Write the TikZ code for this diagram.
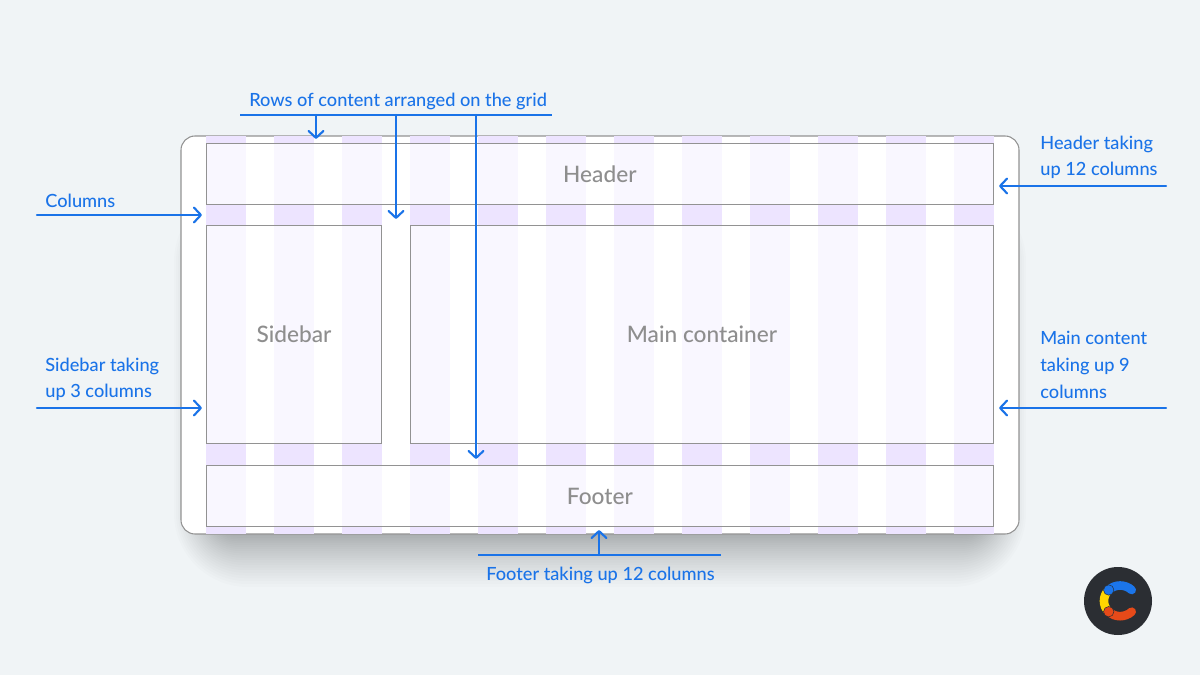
\documentclass[tikz,border=0pt]{standalone}
\usepackage{fontspec}
\setmainfont{Lato Medium}
\usetikzlibrary{arrows.meta}
\definecolor{pagebg}{HTML}{F0F4F6}
\definecolor{cardline}{HTML}{929292}
\definecolor{stripe}{HTML}{EDE4FF}
\definecolor{labelblue}{HTML}{1A73E8}
\definecolor{partgray}{HTML}{8E8E8E}
\definecolor{logodark}{HTML}{2B2E33}
\definecolor{logoblue}{HTML}{1B75EA}
\definecolor{logoyellow}{HTML}{FFD600}
\definecolor{logored}{HTML}{E64A19}
\begin{document}
\begin{tikzpicture}[x=0.02cm,y=-0.02cm,
  part/.style={draw=cardline,line width=0.55pt,fill=white,fill opacity=0.72,text opacity=1,text=partgray,font=\fontsize{12.9}{15}\selectfont,inner sep=0pt,anchor=north west},
  note/.style={text=labelblue,font=\fontsize{10.35}{15.3}\selectfont,align=left,inner sep=0pt,anchor=west},
  rule/.style={draw=labelblue,line width=1.2pt},
  pointer/.style={rule,line cap=round,-{Straight Barb[length=4pt,width=8.5pt,round]}},
  ring/.style={line width=4.9pt,line cap=round}]
\useasboundingbox (0,0) rectangle (1200,675);
\fill[pagebg] (0,0) rectangle (1200,675);
\foreach \k in {1,...,48}
  \fill[black,opacity=0.0115,rounded corners=6+\k*\k/64] (222-\k*\k/48,260-\k*\k/32) rectangle (978+\k*\k/48,515+\k*\k/32);
\draw[cardline,fill=white,line width=0.6pt,rounded corners=8] (181,136) rectangle (1019,534);
\foreach \i in {0,...,11}
  \fill[stripe] (206+68*\i,136.4) rectangle (246+68*\i,533.6);
\node[part,minimum width=786.8*0.02cm,minimum height=61*0.02cm] (header) at (206,143) {Header};
\node[part,minimum width=175*0.02cm,minimum height=218*0.02cm] (sidebar) at (206,225) {Sidebar};
\node[part,minimum width=583*0.02cm,minimum height=218*0.02cm] (main) at (410,225) {Main container};
\node[part,minimum width=786.8*0.02cm,minimum height=61*0.02cm] (footer) at (206,465) {Footer};
\node[note] (rowsnote) at (249,101.5) {Rows of content arranged on the grid};
\node[note] (colsnote) at (45,201) {Columns};
\node[note] (sidenote) at (45,379.3) {Sidebar taking\\up 3 columns};
\node[note] (headnote) at (1040,157.3) {Header taking\\up 12 columns};
\node[note] (mainnote) at (1040,365) {Main content\\taking up 9\\columns};
\node[note] (footnote) at (486,575) {Footer taking up 12 columns};
\coordinate (rowsa) at (240,115);
\coordinate (rowsb) at (552,115);
\coordinate (rows1) at (316,115);
\coordinate (rows2) at (396,115);
\coordinate (rows3) at (476,115);
\coordinate (rows1e) at (316,139);
\coordinate (rows2e) at (396,219);
\coordinate (rows3e) at (476,459);
\coordinate (colsa) at (37,215);
\coordinate (colse) at (202,215);
\coordinate (sidea) at (37,408);
\coordinate (sidee) at (202,408);
\coordinate (heada) at (1166,186);
\coordinate (heade) at (999,186);
\coordinate (maina) at (1166,408);
\coordinate (maine) at (999,408);
\coordinate (foota) at (478,555);
\coordinate (footb) at (721,555);
\coordinate (foot1) at (599,555);
\coordinate (foote) at (599,530);
\draw[rule] (rowsa)--(rowsb);
\draw[rule] (foota)--(footb);
\draw[pointer] (rows1)--(rows1e);
\draw[pointer] (rows2)--(rows2e);
\draw[pointer] (rows3)--(rows3e);
\draw[pointer] (colsa)--(colse);
\draw[pointer] (sidea)--(sidee);
\draw[pointer] (heada)--(heade);
\draw[pointer] (maina)--(maine);
\draw[pointer] (foot1)--(foote);
\fill[logodark] (1118,601) circle (34);
\draw[ring,logoyellow,line cap=butt] (1108.7,590) .. controls (1102.4,596) and (1102.4,606) .. (1108.7,611.7);
\draw[ring,logoblue] (1108.7,590) .. controls (1115,584) and (1125,584) .. (1131.7,590);
\draw[ring,logored] (1108.7,611.7) .. controls (1115,617.7) and (1125,617.7) .. (1131.7,611.7);
\fill[logoblue,draw=logodark,line width=0.3pt] (1108.7,590) circle (5.2);
\fill[logored,draw=logodark,line width=0.3pt] (1108.7,611.7) circle (5.2);
\end{tikzpicture}
\end{document}
